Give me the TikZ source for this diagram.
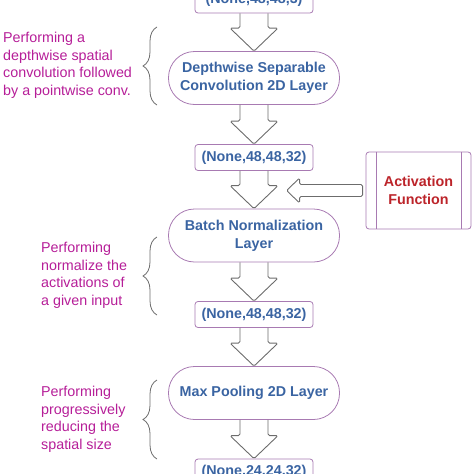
\documentclass[tikz,border=0pt]{standalone}
\usepackage{fontspec}
\setmainfont{Liberation Sans}
\usepackage{tikz}
\usetikzlibrary{calc, decorations.pathreplacing}

\definecolor{layerblue}{RGB}{58,100,162}
\definecolor{notepink}{RGB}{182,30,152}
\definecolor{actred}{RGB}{188,36,42}
\definecolor{boxline}{RGB}{168,122,178}
\definecolor{arrowgray}{RGB}{108,108,108}

\begin{document}
\begin{tikzpicture}[x=1pt, y=-1pt,
        shapebox/.style={draw=boxline, line width=.8pt, rounded corners=3pt, minimum width=118pt, minimum height=26pt, inner sep=0pt, text=layerblue, font=\fontsize{14.3}{17.6}\selectfont\bfseries},
        layer/.style={draw=boxline, line width=.8pt, rounded corners=26pt, minimum width=171pt, minimum height=53pt, inner sep=0pt, align=center, text=layerblue, font=\fontsize{14.3}{17.6}\selectfont\bfseries},
        note/.style={anchor=north west, align=left, inner sep=0pt, text=notepink, font=\fontsize{14.3}{17.5}\selectfont},
        blockarrow/.style={draw=arrowgray, line width=.9pt, rounded corners=1.5pt, line join=round},
        curly/.style={draw=arrowgray, line width=.8pt, decorate, decoration={brace, amplitude=14pt}}]
        \useasboundingbox (0, 0) rectangle (474, 474);
        \clip (0, 0) rectangle (474, 474);
        % Layers and shapes:
        \node[shapebox] (in) at (254, 0) {(None,48,48,3)};
        \node[layer] (dsc) at (254, 78) {Depthwise Separable\\Convolution 2D Layer};
        \node[shapebox] (s1) at (254, 157.5) {(None,48,48,32)};
        \node[layer] (bn) at (254, 235.5) {Batch Normalization\\Layer};
        \node[shapebox] (s2) at (254, 314.5) {(None,48,48,32)};
        \node[layer] (mp) at (254, 393) {Max Pooling 2D Layer};
        \node[shapebox] (out) at (254, 472) {(None,24,24,32)};
        % Activation function box:
        \node[draw=boxline, line width=.8pt, rounded corners=3pt, minimum width=105pt, minimum height=77pt, align=center, text=actred, font=\fontsize{14.3}{17.3}\selectfont\bfseries] (act) at (418.5, 190.5) {Activation\\Function};
        \draw[boxline, line width=.8pt] ($(act.north west)+(11, 0)$) -- ($(act.south west)+(11, 0)$);
        \draw[boxline, line width=.8pt] ($(act.north east)+(-10, 0)$) -- ($(act.south east)+(-10, 0)$);
        % Block arrows:
        \foreach \a/\b in {in/dsc, dsc/s1, s1/bn, bn/s2, s2/mp, mp/out}
            \draw[blockarrow] ($(\a.south)+(-14, 0)$) -- ($(\b.north)+(-14, -23)$) -- ($(\b.north)+(-24, -23)$) -- (\b.north) -- ($(\b.north)+(24, -23)$) -- ($(\b.north)+(14, -23)$) -- ($(\a.south)+(14, 0)$);
        \coordinate (actin) at ($(act.west)+(-79, 0)$);
        \draw[blockarrow] ($(act.west)+(-3, -6)$) -- ($(act.west)+(-66, -6)$) -- ($(act.west)+(-66, -12.5)$) -- (actin) -- ($(act.west)+(-66, 12.5)$) -- ($(act.west)+(-66, 6)$) -- ($(act.west)+(-3, 6)$) -- cycle;
        % Notes and braces:
        \node[note] (n1) at (3, 32) {Performing a\\depthwise spatial\\convolution followed\\by a pointwise conv.};
        \node[note] (n2) at (41, 242) {Performing\\normalize the\\activations of\\a given input};
        \node[note] (n3) at (41, 386) {Performing\\progressively\\reducing the\\spatial size};
        \draw[curly] (157, 105) -- (157, 27);
        \draw[curly] (157, 315) -- (157, 237);
        \draw[curly] (157, 459) -- (157, 380);
    \end{tikzpicture}
\end{document}
